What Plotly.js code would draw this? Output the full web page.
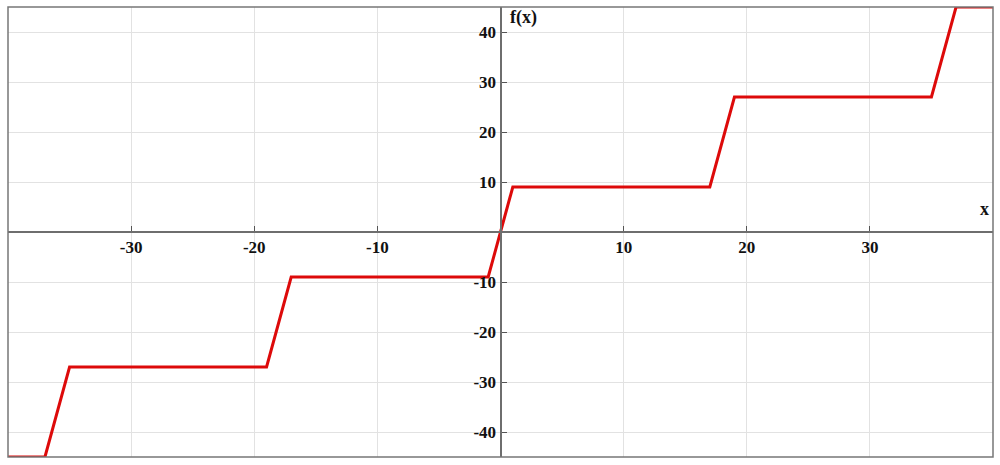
<!DOCTYPE html>
<html>
<head>
<meta charset="utf-8">
<script src="https://cdn.plot.ly/plotly-3.0.1.min.js"></script>
<style>
  html, body { margin: 0; padding: 0; background: #fff; }
  #myChart { width: 1000px; height: 465px; }
</style>
</head>
<body>
<div id="myChart"></div>
<script>
// corner points of the staircase
const xPts = [-40, -37, -35, -19, -17, -1, 1, 17, 19, 35, 37, 40];
const yPts = [-45, -45, -27, -27, -9, -9, 9, 9, 27, 27, 45, 45];

const xTicks = [-30, -20, -10, 10, 20, 30];
const yTicks = [-40, -30, -20, -10, 10, 20, 30, 40];

const tickFont = { family: "Liberation Serif", size: 17, color: "#111", weight: "bold" };
const labelFont = { family: "Liberation Serif", size: 18, color: "#111", weight: "bold" };

var data = {
    x: xPts,
    y: yPts,
    type: 'scatter',
    mode: 'lines',
    line: { color: '#dd0a0a', width: 3 },
    hoverinfo: 'skip'
};

var layout = {
    width: 1000,
    height: 465,
    margin: { l: 8, r: 7, t: 7, b: 8 },
    paper_bgcolor: '#fff',
    plot_bgcolor: '#fff',
    showlegend: false,
    xaxis: {
        range: [-40, 40],
        anchor: 'free',
        position: 0.5,
        showline: true,
        linecolor: '#6e6e6e',
        linewidth: 2,
        zeroline: false,
        showgrid: true,
        gridcolor: '#e2e2e2',
        gridwidth: 1,
        tickvals: xTicks,
        ticktext: xTicks.map(String),
        ticks: 'inside',
        ticklen: 5,
        tickcolor: '#555',
        tickfont: tickFont
    },
    yaxis: {
        range: [-45, 45],
        anchor: 'free',
        position: 0.5,
        showline: true,
        linecolor: '#6e6e6e',
        linewidth: 2,
        zeroline: false,
        showgrid: true,
        gridcolor: '#e2e2e2',
        gridwidth: 1,
        tickvals: yTicks,
        ticktext: yTicks.map(String),
        ticks: 'inside',
        ticklen: 5,
        tickcolor: '#555',
        tickfont: tickFont
    },
    shapes: [{
        type: 'rect', xref: 'paper', yref: 'paper',
        x0: 0, x1: 1, y0: 0, y1: 1,
        line: { color: '#777', width: 1.5 }
    }],
    annotations: [
        { x: 1.9, y: 42.9, text: 'f(x)', showarrow: false, font: labelFont },
        { x: 39.3, y: 4.6, text: 'x', showarrow: false, font: labelFont }
    ]
};

Plotly.newPlot('myChart', [data], layout, { staticPlot: true });
</script>
</body>
</html>
